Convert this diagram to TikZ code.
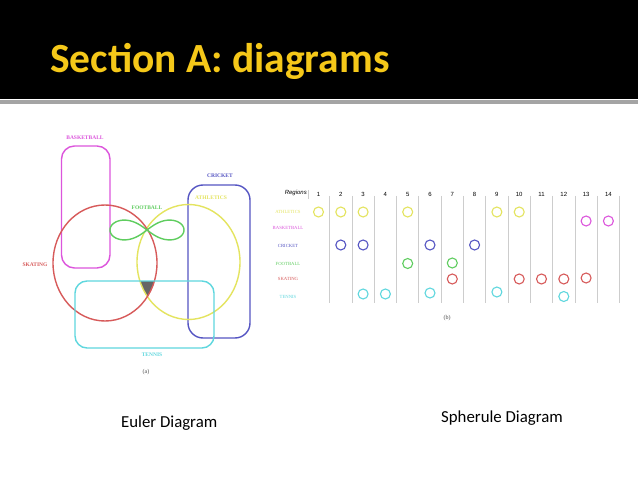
\documentclass[tikz,border=0pt]{standalone}
\usepackage{fontspec}
\setmainfont{Carlito}
\newfontfamily\lblserif{Liberation Serif}
\newfontfamily\lblsans{Liberation Sans}
\usetikzlibrary{positioning}

\definecolor{titleyellow}{RGB}{245,200,25}
\definecolor{athl}{RGB}{228,228,95}
\definecolor{bask}{RGB}{220,85,220}
\definecolor{crick}{RGB}{85,85,195}
\definecolor{foot}{RGB}{95,205,95}
\definecolor{skat}{RGB}{215,90,90}
\definecolor{tenn}{RGB}{95,215,222}
\definecolor{rule}{RGB}{205,205,205}

\begin{document}
\begin{tikzpicture}[x=1pt, y=-1pt,
    set/.style={line width=1.4pt},
    setlabel/.style={font=\lblserif\bfseries\fontsize{5.5}{6}\selectfont, inner sep=0pt},
    rowlabel/.style={font=\lblserif\fontsize{4.7}{5}\selectfont, inner sep=0pt},
    colnum/.style={font=\lblsans\fontsize{6}{7}\selectfont, inner sep=0pt},
    spherule/.style={circle, draw, line width=1.1pt, minimum size=10pt, inner sep=0pt},
    caption/.style={font=\fontsize{16.8}{20}\selectfont, inner sep=0pt, anchor=base west}]
  \useasboundingbox[fill=white] (0,0) rectangle (638,478);

  % header band
  \fill[black] (0,0) rectangle (638,99);
  \fill[rule!80!black] (0,100.5) rectangle (638,104);
  \node[font=\bfseries\fontsize{41.5}{46}\selectfont, text=titleyellow, anchor=base west, inner sep=0pt]
    (title) at (50,73) {Section A: diagrams};

  % euler diagram
  \begin{scope}
    \clip (105,263) ellipse (52 and 58);
    \clip (188.5,262) ellipse (51.5 and 57.5);
    \fill[black!60] (75,281) rectangle (214,348);
  \end{scope}
  \draw[set, bask, rounded corners=13pt] (61.5,146) rectangle (110,268);
  \draw[set, crick, rounded corners=15pt] (188,185) rectangle (250,338);
  \draw[set, athl] (188.5,262) ellipse (51.5 and 57.5);
  \draw[set, skat] (105,263) ellipse (52 and 58);
  \draw[set, tenn, rounded corners=12pt] (75,281) rectangle (214,348);
  \draw[set, foot, samples=120, domain=0:360, smooth]
    plot ({147+37*cos(\x)/(1+sin(\x)^2)}, {230+28*sin(\x)*cos(\x)/(1+sin(\x)^2)});

  \node[setlabel, text=bask]  (lbask)  at (85,138)  {BASKETBALL};
  \node[setlabel, text=crick] (lcrick) at (220,176) {CRICKET};
  \node[setlabel, text=athl]  (lathl)  at (211,198) {ATHLETICS};
  \node[setlabel, text=foot]  (lfoot)  at (147,208) {FOOTBALL};
  \node[setlabel, text=skat]  (lskat)  at (35,265)  {SKATING};
  \node[setlabel, text=tenn]  (ltenn)  at (152,355) {TENNIS};
  \node[font=\lblserif\fontsize{6}{7}\selectfont, text=black!70] (capa) at (146,372) {(a)};

  % spherule diagram
  \node[colnum, font=\lblsans\itshape\fontsize{6}{7}\selectfont, anchor=east] (regions) at (307,193) {Regions};
  \draw[rule, line width=0.7pt] (308,190) -- (308,199);
  \foreach \i in {1,...,14} {
    \node[colnum] (n\i) at ({318.5+(\i-1)*22.3},194) {\i};
    \draw[rule, line width=0.7pt] ({329.6+(\i-1)*22.3},196) -- ({329.6+(\i-1)*22.3},303);
  }
  \foreach \lab/\y/\col in {ATHLETICS/212/athl, BASKETBALL/228/bask, CRICKET/245.5/crick,
                            FOOTBALL/264/foot, SKATING/279/skat, TENNIS/296.5/tenn}
    \node[rowlabel, text=\col] (r\lab) at (288,\y) {\lab};

  \foreach \c/\y/\col in {1/212/athl, 2/212/athl, 3/212/athl, 5/212/athl, 9/212/athl, 10/212/athl,
                          13/221/bask, 14/221/bask,
                          2/245/crick, 3/245/crick, 6/245/crick, 8/245/crick,
                          5/263.5/foot, 7/263/foot,
                          7/279/skat, 10/279/skat, 11/279/skat, 12/279/skat, 13/278/skat,
                          3/294/tenn, 4/294/tenn, 6/293/tenn, 9/292/tenn, 12/296.5/tenn}
    \node[spherule, draw=\col] (s\col\c) at ({318.5+(\c-1)*22.3},\y) {};

  \node[font=\lblserif\fontsize{6}{7}\selectfont, text=black!70] (capb) at (447,318) {(b)};

  % captions
  \node[caption] (euler) at (121,428) {Euler Diagram};
  \node[caption] (spher) at (441,423) {Spherule Diagram};
\end{tikzpicture}
\end{document}
